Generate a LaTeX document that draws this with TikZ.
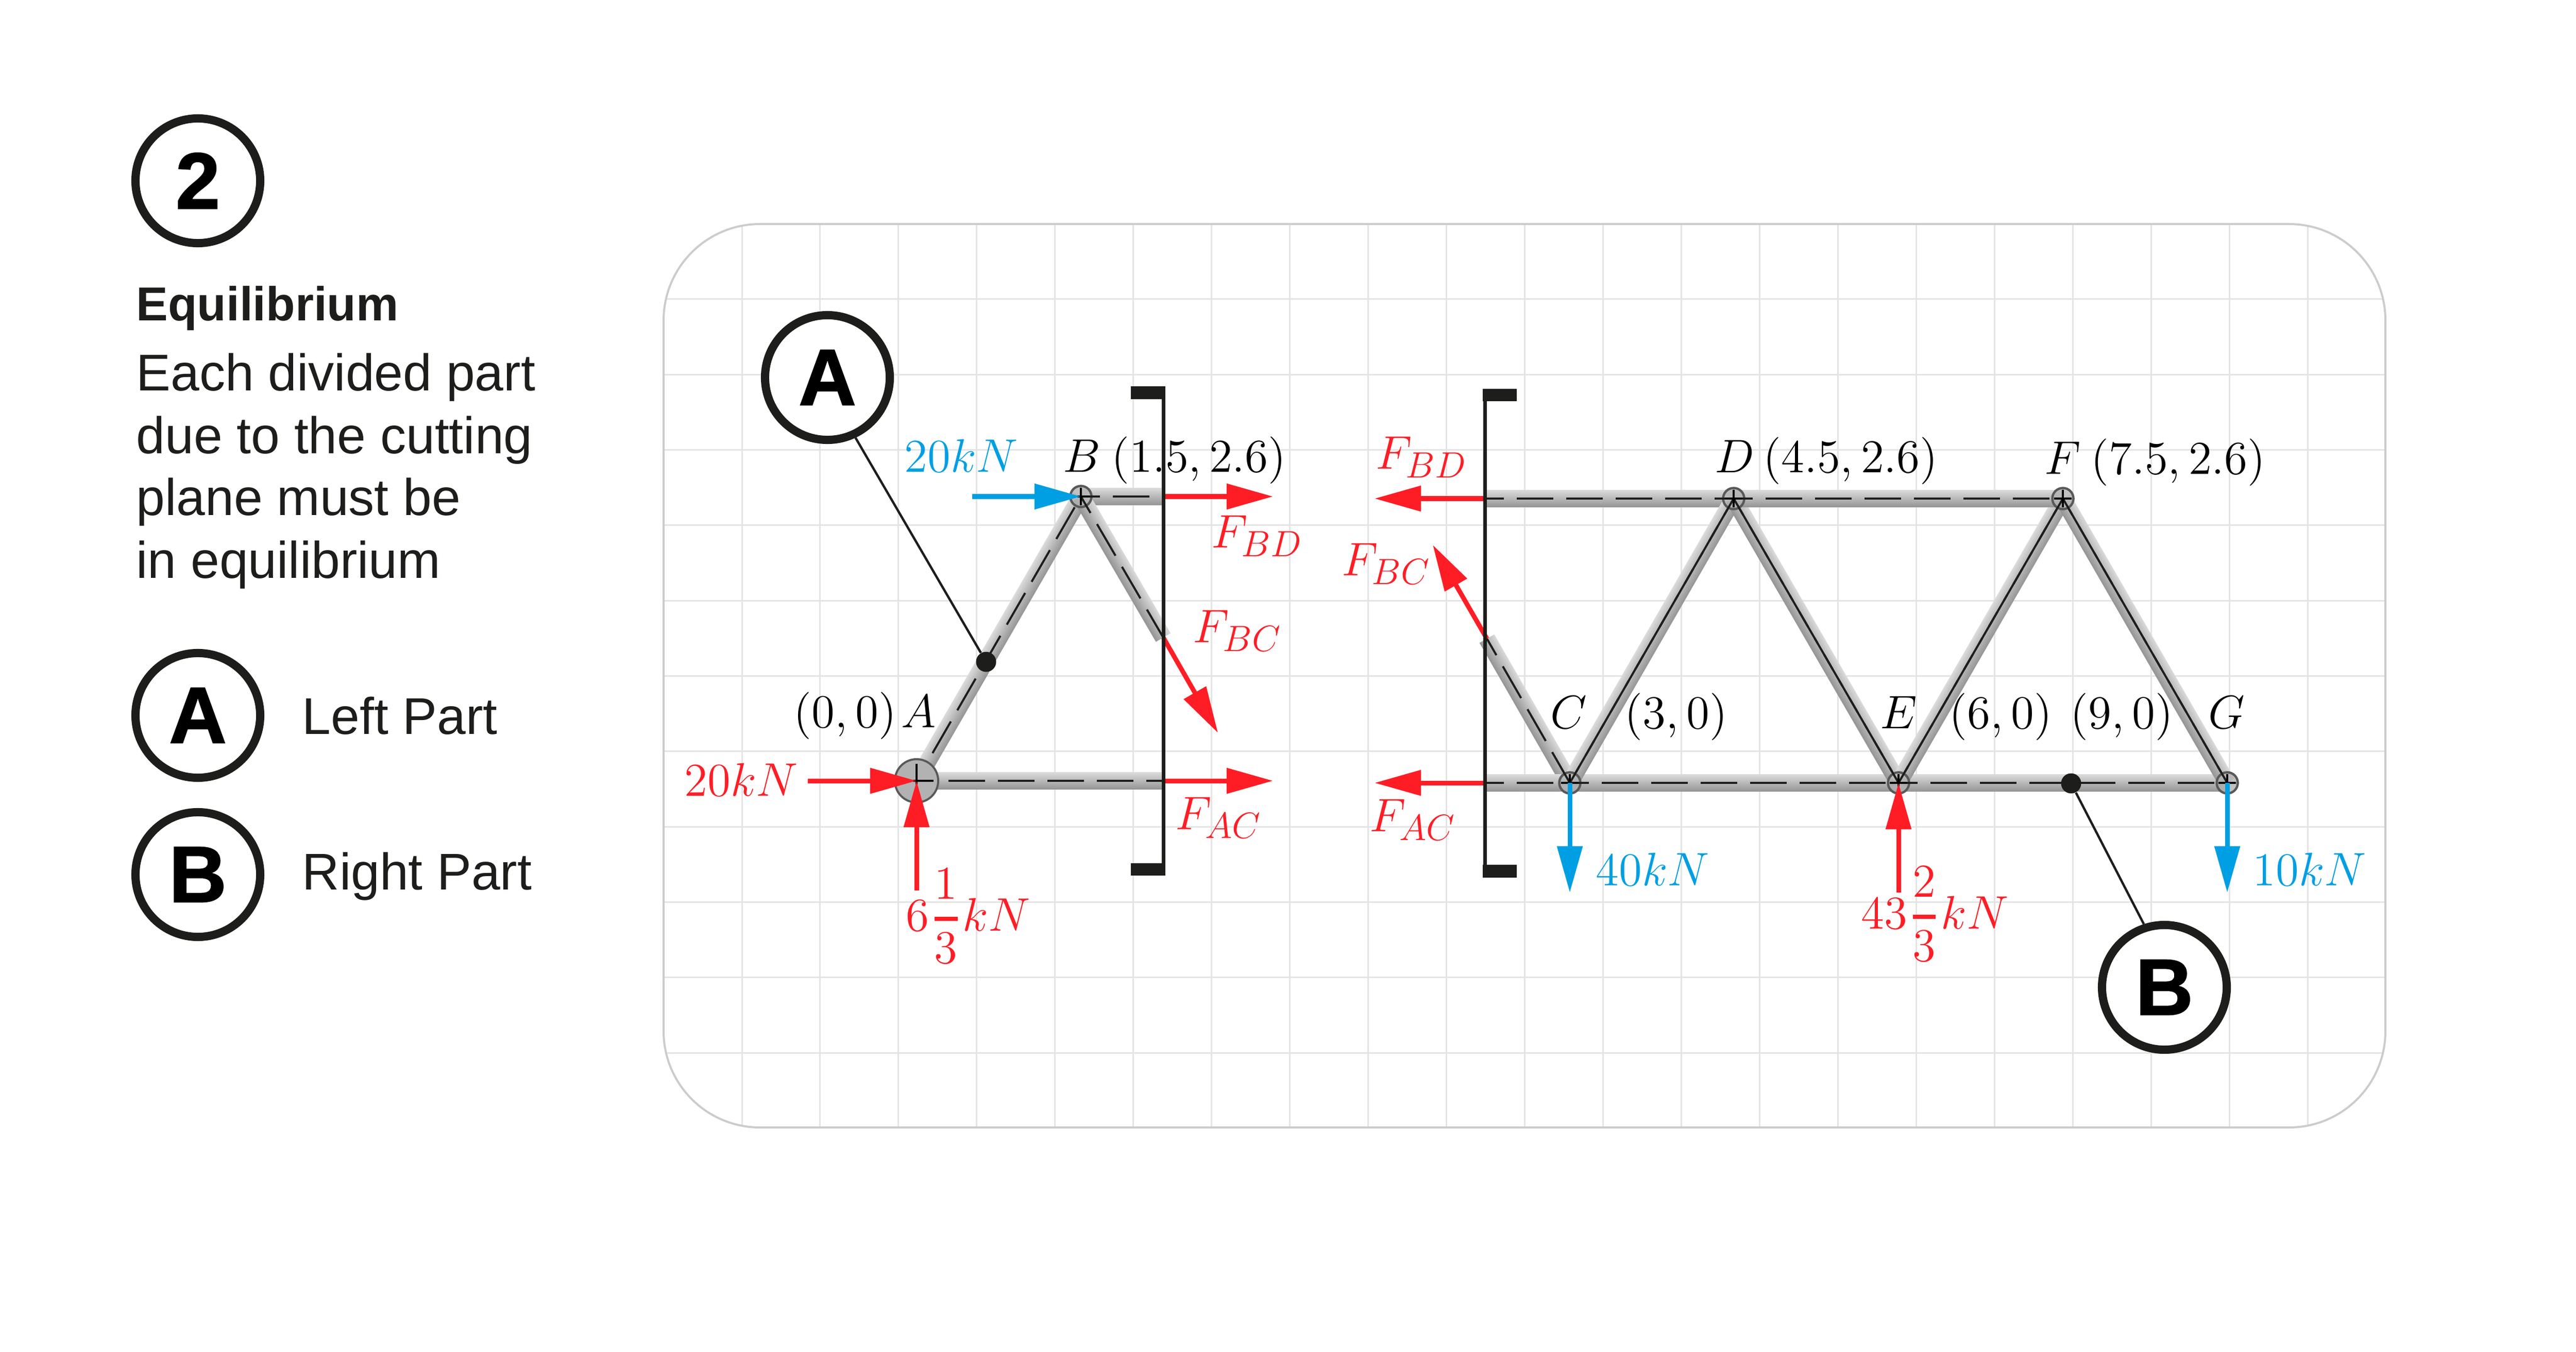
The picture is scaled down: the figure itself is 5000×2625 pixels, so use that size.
\documentclass[tikz,border=0pt]{standalone}
\usepackage{amsmath}
\usepackage[no-math]{fontspec}
\setsansfont{Liberation Sans}
\newfontfamily\badgefont[BoldFeatures={FakeBold=1.4}]{Liberation Sans}
\DeclareFontShape{OT1}{cmr}{m}{n}{<->cmr12}{}
\DeclareFontShape{OML}{cmm}{m}{it}{<->cmmi12}{}
\DeclareFontShape{OMS}{cmsy}{m}{n}{<->cmsy10}{}
\DeclareFontShape{OMX}{cmex}{m}{n}{<->cmex10}{}
\DeclareMathSizes{26}{26}{20.2}{14}
\usetikzlibrary{arrows.meta, calc}
\definecolor{inkblack}{HTML}{1D1D1B}
\definecolor{forcered}{HTML}{FF1D25}
\definecolor{loadblue}{HTML}{009FE3}
\definecolor{gridgray}{HTML}{E4E4E4}
\definecolor{framegray}{HTML}{CCCCCC}
\tikzset{every picture/.style={/utils/exec={\sffamily}}}
\tikzset{
	gridline/.style={draw=gridgray, line width=0.03cm},
	barline/.style={draw=inkblack, line width=0.04cm, dash pattern=on 0.71cm off 0.25cm, dash phase=0.34cm},
	crossline/.style={draw=black, line width=0.04cm},
	bigjoint/.style={circle, inner sep=0, minimum size=0.84cm, fill=black!30, draw=black!65, line width=0.04cm},
	joint/.style={circle, inner sep=0, minimum size=0.41cm, fill=black!30, fill opacity=0.8, draw=black!65, line width=0.045cm},
	redforce/.style={draw=forcered, line width=0.09cm, -{Triangle[length=0.9cm, width=0.48cm]}, forcered},
	blueforce/.style={draw=loadblue, line width=0.09cm, -{Triangle[length=0.9cm, width=0.48cm]}, loadblue},
	cutline/.style={draw=inkblack, line width=0.07cm},
	leader/.style={draw=inkblack, line width=0.045cm},
	pickdot/.style={circle, inner sep=0, minimum size=0.39cm, fill=inkblack},
	badge/.style={circle, inner sep=0, minimum size=2.42cm, draw=inkblack, fill=white, line width=0.16cm, font=\fontsize{44}{46}\selectfont\badgefont\bfseries, text=black},
	mathlabel/.style={anchor=base west, inner sep=0, font=\fontsize{26}{30}\selectfont},
	bodytext/.style={anchor=base west, inner sep=0, text=inkblack, font=\fontsize{28.5}{34.4}\selectfont},
}
\newcommand{\trussbar}[2]{
	\pgfpointanchor{#1}{center}\pgfgetlastxy{\barxa}{\barya}
	\pgfpointanchor{#2}{center}\pgfgetlastxy{\barxb}{\baryb}
	\pgfmathsetmacro{\barang}{atan2(\baryb-\barya,\barxb-\barxa)}
	\pgfmathsetmacro{\barlen}{veclen(\barxb-\barxa,\baryb-\barya)}
	\begin{scope}[transform canvas={shift={(\barxa,\barya)},rotate=\barang}]
		\shade[top color=black!14, bottom color=black!42] (0pt,-0.165cm) rectangle (\barlen pt,0.165cm);
	\end{scope}
}
\newcommand{\mixedfrac}[2]{\mkern1.2mu\genfrac{}{}{2.2pt}{0}{#1}{#2}\mkern1.2mu}
\begin{document}
\begin{tikzpicture}[x=0.01cm, y=-0.01cm]
	\useasboundingbox (0,0) rectangle (5000,2625);

	% panel
	\begin{scope}
		\clip[rounded corners=1.87cm] (1288,435) rectangle (4630,2189);
		\foreach \k in {0,...,20} \draw[gridline] ({1440+151.95*\k},435) -- ({1440+151.95*\k},2189);
		\foreach \k in {0,...,10} \draw[gridline] (1288,{581+146.3*\k}) -- (4630,{581+146.3*\k});
	\end{scope}
	\draw[framegray, line width=0.04cm, rounded corners=1.87cm] (1288,435) rectangle (4630,2189);

	% joints and cut points
	\coordinate (A) at (1779,1516);
	\coordinate (B) at (2098,964);
	\coordinate (C) at (3047,1520);
	\coordinate (D) at (3365,968);
	\coordinate (E) at (3685,1520);
	\coordinate (F) at (4004,968);
	\coordinate (G) at (4323,1520);
	\coordinate (cutBD) at (2258,964);
	\coordinate (cutBC) at (2258,1238);
	\coordinate (cutAC) at (2258,1516);
	\coordinate (cutDB) at (2882,968);
	\coordinate (cutCB) at (2886,1240);
	\coordinate (cutCA) at (2882,1520);

	% bars
	\trussbar{A}{B}
	\trussbar{A}{cutAC}
	\trussbar{B}{cutBD}
	\trussbar{B}{cutBC}
	\trussbar{cutDB}{D}
	\trussbar{cutCB}{C}
	\trussbar{cutCA}{G}
	\trussbar{C}{D}
	\trussbar{D}{E}
	\trussbar{E}{F}
	\trussbar{F}{G}
	\trussbar{D}{F}

	\foreach \p in {B,C,D,E,F,G} \node[joint] (joint\p) at (\p) {};

	% centre lines
	\foreach \p/\q in {A/B, A/cutAC, B/cutBD, B/cutBC, cutDB/D, cutCB/C, cutCA/C, C/E, E/G, D/F}
		\draw[barline] (\p) -- (\q);
	\foreach \p/\q in {C/D, D/E, E/F, F/G}{
		\draw[barline] (\p) -- (\q);
		\draw[barline] (\q) -- (\p);
	}
	\node[bigjoint] (jointA) at (A) {};
	\foreach \p in {A,B,C,D,E,F,G}{
		\draw[crossline] ($(joint\p.center)!0.75!(joint\p.north)$) -- ($(joint\p.center)!0.75!(joint\p.south)$);
		\draw[crossline] ($(joint\p.center)!0.75!(joint\p.west)$) -- ($(joint\p.center)!0.75!(joint\p.east)$);
	}

	% forces
	\coordinate (tipBD) at (2471,964);
	\coordinate (tipBC) at (2364,1423);
	\coordinate (tipAC) at (2471,1516);
	\coordinate (tipDB) at (2668,968);
	\coordinate (tipCB) at (2781,1058);
	\coordinate (tipCA) at (2668,1520);
	\coordinate (tailAh) at (1568,1516);
	\coordinate (tailAv) at (1779,1729);
	\coordinate (tailB) at (1887,964);
	\coordinate (endC) at (3047,1733);
	\coordinate (tailE) at (3685,1733);
	\coordinate (endG) at (4323,1733);
	\draw[redforce] (tailAh) -- (A);
	\draw[redforce] (tailAv) -- (A);
	\draw[redforce] (tailE) -- (E);
	\draw[redforce] (cutBD) -- (tipBD);
	\draw[redforce] (cutBC) -- (tipBC);
	\draw[redforce] (cutAC) -- (tipAC);
	\draw[redforce] (cutDB) -- (tipDB);
	\draw[redforce] (cutCB) -- (tipCB);
	\draw[redforce] (cutCA) -- (tipCA);
	\draw[blueforce] (tailB) -- (B);
	\draw[blueforce] (C) -- (endC);
	\draw[blueforce] (G) -- (endG);

	% cutting plane
	\draw[cutline] (2258,750) -- (2258,1700);
	\fill[inkblack] (2195,750) rectangle (2262,775);
	\fill[inkblack] (2195,1676) rectangle (2262,1700);
	\draw[cutline] (2882,755) -- (2882,1704);
	\fill[inkblack] (2878,755) rectangle (2944,779);
	\fill[inkblack] (2878,1679) rectangle (2944,1704);

	% labels
	\node[mathlabel, text=loadblue] (loadB) at (1755,916) {$20kN$};
	\node[mathlabel] (nameB) at (2063,916) {$B$};
	\node[mathlabel] (posB) at (2157,916) {$(1.5,2.6)$};
	\node[mathlabel] (posA) at (1540,1412) {$(0,0)$};
	\node[mathlabel] (nameA) at (1749,1412) {$A$};
	\node[mathlabel, text=forcered] (loadAh) at (1328,1545) {$20kN$};
	\node[mathlabel, text=forcered] (loadAv) at (1758,1807) {$6\mixedfrac{1}{3}kN$};
	\node[mathlabel, text=forcered] (fBDl) at (2351,1063) {$F_{BD}$};
	\node[mathlabel, text=forcered] (fBCl) at (2315,1247) {$F_{BC}$};
	\node[mathlabel, text=forcered] (fACl) at (2281,1610) {$F_{AC}$};
	\node[mathlabel, text=forcered] (fBDr) at (2670,910) {$F_{BD}$};
	\node[mathlabel, text=forcered] (fBCr) at (2604,1117) {$F_{BC}$};
	\node[mathlabel, text=forcered] (fACr) at (2658,1614) {$F_{AC}$};
	\node[mathlabel] (nameD) at (3328,918) {$D$};
	\node[mathlabel] (posD) at (3422,918) {$(4.5,2.6)$};
	\node[mathlabel] (nameF) at (3968,920) {$F$};
	\node[mathlabel] (posF) at (4058,920) {$(7.5,2.6)$};
	\node[mathlabel] (nameC) at (3009,1414) {$C$};
	\node[mathlabel] (posC) at (3153,1414) {$(3,0)$};
	\node[mathlabel] (nameE) at (3649,1414) {$E$};
	\node[mathlabel] (posE) at (3783,1414) {$(6,0)$};
	\node[mathlabel] (posG) at (4018,1414) {$(9,0)$};
	\node[mathlabel] (nameG) at (4286,1414) {$G$};
	\node[mathlabel, text=loadblue] (loadC) at (3097,1719) {$40kN$};
	\node[mathlabel, text=forcered] (loadE) at (3612,1803) {$43\mixedfrac{2}{3}kN$};
	\node[mathlabel, text=loadblue] (loadG) at (4372,1719) {$10kN$};

	% callouts
	\node[pickdot] (dotA) at (1914,1285) {};
	\node[pickdot] (dotB) at (4020,1521) {};
	\node[badge] (callA) at (1606,733) {A};
	\node[badge] (callB) at (4201,1917) {B};
	\draw[leader] (dotA) -- (callA.-65);
	\draw[leader] (dotB) -- (callB.108);

	% side text
	\node[badge] (stepno) at (384,351) {2};
	\node[bodytext, font=\fontsize{26.3}{30}\selectfont\bfseries] (heading) at (264,623) {Equilibrium};
	\node[bodytext] (lineone) at (264,759) {Each divided part};
	\node[bodytext] (linetwo) at (264,881) {due to the cutting};
	\node[bodytext] (linethree) at (264,1000) {plane must be};
	\node[bodytext] (linefour) at (264,1122) {in equilibrium};
	\node[badge] (keyA) at (384,1389) {A};
	\node[badge] (keyB) at (384,1698) {B};
	\node[bodytext] (keyAtext) at (586,1425) {Left Part};
	\node[bodytext] (keyBtext) at (586,1727) {Right Part};
\end{tikzpicture}
\end{document}
